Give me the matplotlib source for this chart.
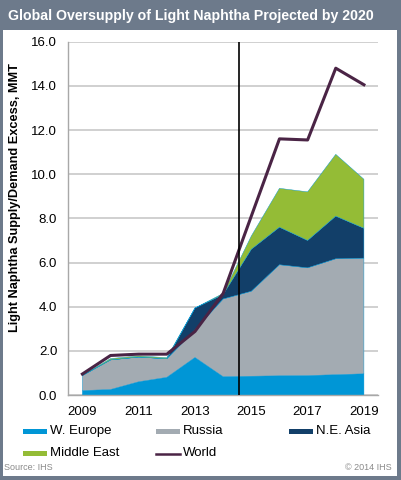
import matplotlib
matplotlib.use("Agg")
import matplotlib.pyplot as plt
import numpy as np
from matplotlib.patches import Rectangle
from matplotlib.lines import Line2D

plt.rcParams['font.family'] = ['Liberation Sans', 'DejaVu Sans']

# data (MMT)
years = [2009, 2010, 2011, 2012, 2013, 2014, 2015, 2016, 2017, 2018, 2019]
w_europe = [0.20, 0.25, 0.60, 0.80, 1.70, 0.83, 0.85, 0.87, 0.88, 0.92, 0.96]
russia = [0.68, 1.34, 1.12, 0.84, 1.25, 3.52, 3.85, 5.03, 4.88, 5.25, 5.24]
ne_asia = [0.00, 0.00, 0.00, 0.00, 0.99, 0.20, 1.90, 1.70, 1.24, 1.93, 1.35]
middle_east = [0.02, 0.06, 0.05, 0.05, 0.00, 0.05, 0.60, 1.76, 2.20, 2.80, 2.22]
world = [0.95, 1.79, 1.85, 1.85, 2.88, 4.60, 8.10, 11.60, 11.55, 14.80, 14.05]

labels = ['W. Europe', 'Russia', 'N.E. Asia', 'Middle East']
colors = ['#0096d6', '#a3abb2', '#123f69', '#94bc36']
world_color = '#4a2445'
frame = '#6d7a8b'

W, H = 401, 480
fig = plt.figure(figsize=(W / 100, H / 100), dpi=100, facecolor=frame)

# white panel under the title bar
fig.patches.append(Rectangle((3 / W, 4 / H), 394 / W, 446 / H,
                             transform=fig.transFigure, facecolor='white',
                             edgecolor='none', zorder=-5))

fig.text(8 / W, 1 - 16 / H, 'Global Oversupply of Light Naphtha Projected by 2020',
         color='white', fontsize=10.2, fontweight='bold', va='center', ha='left')

ax = fig.add_axes([68.3 / W, 85 / H, (378 - 68.3) / W, (395 - 41.7) / H])
ax.stackplot(years, w_europe, russia, ne_asia, middle_east, colors=colors,
             linewidth=0.3, edgecolors=colors, zorder=2)
ax.plot(years, world, color=world_color, lw=2.2, zorder=4)
ax.axvline(2014.56, color='black', lw=1.2, zorder=5)

ax.set_xlim(2008.5, 2019.5)
ax.set_ylim(0, 16)
ax.set_yticks(np.arange(0, 16.1, 2))
ax.set_yticklabels(['%.1f' % v for v in np.arange(0, 16.1, 2)])
ax.set_xticks(years[::2])
ax.tick_params(length=0, labelsize=9.5)
ax.tick_params(axis='y', pad=8)
ax.tick_params(axis='x', pad=8)
ax.grid(axis='y', color='#c8c8c8', lw=1.2, zorder=1)
ax.set_axisbelow(True)
for s in ['top', 'right']:
    ax.spines[s].set_visible(False)
for s in ['left', 'bottom']:
    ax.spines[s].set_color('#a8a8a8')
    ax.spines[s].set_linewidth(1)

fig.text(15 / W, 1 - 198 / H, 'Light Naphtha Supply/Demand Excess, MMT',
         rotation=90, fontsize=9.2, fontweight='bold', ha='center', va='center')

# legend
rows = [(22.7, 431, 0), (156, 431, 1), (288.7, 431, 2), (22.7, 453.5, 3)]
for x0, yc, i in rows:
    fig.patches.append(Rectangle((x0 / W, 1 - (yc + 2.5) / H), 24 / W, 5 / H,
                                 transform=fig.transFigure, facecolor=colors[i],
                                 edgecolor='none'))
    fig.text((x0 + 27) / W, 1 - yc / H, labels[i], fontsize=9.5,
             ha='left', va='center')
fig.lines.append(Line2D([156 / W, 180 / W], [1 - 453.5 / H, 1 - 453.5 / H],
                        transform=fig.transFigure, color=world_color, lw=1.8))
fig.text(183 / W, 1 - 453.5 / H, 'World', fontsize=9.5, ha='left', va='center')

fig.text(4 / W, 1 - 467 / H, 'Source: IHS', fontsize=6.5, color='#8a8a8a',
         ha='left', va='center')
fig.text(392 / W, 1 - 467 / H, '\u00a9 2014 IHS', fontsize=6.5, color='#8a8a8a',
         ha='right', va='center')

fig.savefig('out.png', dpi=100, facecolor=frame)
